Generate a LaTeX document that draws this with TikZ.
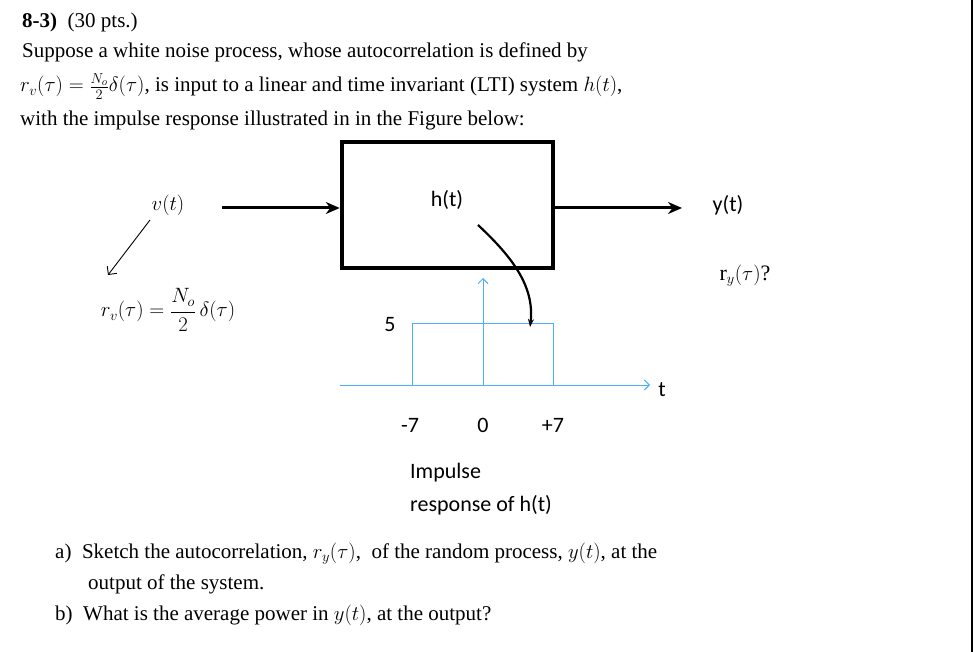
\documentclass[tikz,border=0pt]{standalone}
\usepackage{fontspec}
\setmainfont{Liberation Serif}
\newfontfamily\carlitofam{Carlito}
\usetikzlibrary{arrows.meta}
\begin{document}
\begin{tikzpicture}[x=1pt,y=-1pt,
  tx/.style={anchor=base west,inner sep=0pt,font=\fontsize{21}{24}\selectfont},
  sx/.style={inner sep=0pt,font=\carlitofam\fontsize{22}{26}\selectfont},
  ax/.style={draw=blue!45!cyan!70,line width=0.9pt,-{Straight Barb[length=5pt]}}]
\useasboundingbox (0,0) rectangle (975,652);
\fill[white] (0,0) rectangle (975,652);
\draw[line width=2pt] (972,0) -- (972,652);
\node[tx] (l1) at (22,28) {\textbf{8-3)}\ \ (30 pts.)};
\node[tx] (l2) at (22,58) {Suppose a white noise process, whose autocorrelation is defined by};
\node[tx] (l3) at (20,92) {$r_v(\tau)=\frac{N_o}{2}\delta(\tau)$, is input to a linear and time invariant (LTI) system $h(t)$,};
\node[tx] (l4) at (20,126) {with the impulse response illustrated in in the Figure below:};
\node[draw,line width=4.5pt,minimum width=211pt,minimum height=126pt] (box) at (447.5,205) {};
\node[sx] (h) at (447,200) {h(t)};
\node[sx] (v) at (168,205) {$v(t)$};
\node[sx] (y) at (728,205) {y(t)};
\draw[line width=3pt,-{Stealth[length=14pt,width=12pt]}] (222,208) -- (box.west|-0,208);
\draw[line width=3pt,-{Stealth[length=14pt,width=12pt]}] (box.east|-0,208) -- (682,208);
\coordinate (d1) at (150,220);
\coordinate (d2) at (108,275);
\draw[line width=0.9pt,-{Straight Barb[length=6pt]}] (d1) -- (d2);
\node[sx,font=\fontsize{22}{26}\selectfont] (rv) at (168,310) {$r_v(\tau)=\displaystyle\frac{N_o}{2}\,\delta(\tau)$};
\node[sx,font=\fontsize{22}{26}\selectfont] (ry) at (745,276) {$\mathrm{r}_y(\tau)$?};
\coordinate (o) at (483,385);
\coordinate (xe) at (650,385);
\coordinate (ye) at (483,278);
\draw[ax] (340,385) -- (xe);
\draw[ax] (o) -- (ye);
\draw[draw=blue!45!cyan!70,line width=0.9pt] (412,385) -- (412,323) -- (553,323) -- (553,385);
\node[sx] (t) at (662,390) {t};
\node[sx] (five) at (390,325) {5};
\node[sx] (m7) at (410,425) {-7};
\node[sx] (z) at (483,425) {0};
\node[sx] (p7) at (553,425) {+7};
\node[sx,anchor=base west] (imp) at (410,478) {Impulse};
\node[sx,anchor=base west] (resp) at (410,511) {response of h(t)};
\coordinate (c1) at (478,225);
\coordinate (c2) at (530,327);
\draw[line width=2.2pt,-{Stealth[length=8pt]}] (c1) .. controls (510,255) and (535,285) .. (c2);
\node[tx] (a) at (55,558) {a)\ \ Sketch the autocorrelation, $r_y(\tau)$,\ \ of the random process, $y(t)$, at the};
\node[tx] (a2) at (88,589) {output of the system.};
\node[tx] (b) at (55,620) {b)\ \ What is the average power in $y(t)$, at the output?};
\end{tikzpicture}
\end{document}
